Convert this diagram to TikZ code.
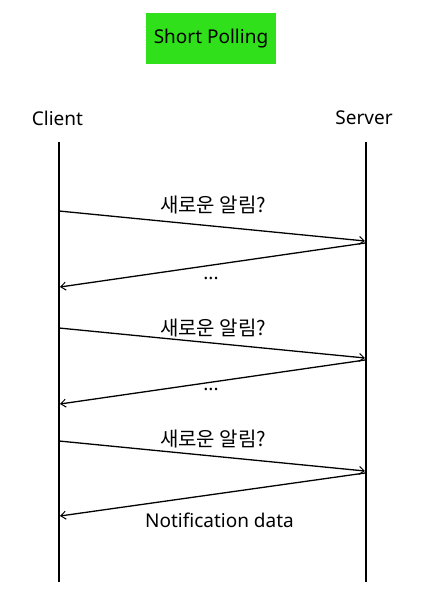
\documentclass[tikz,border=0pt]{standalone}
\usepackage{fontspec}
\setmainfont{Noto Sans}
\newfontfamily\kofont{Noto Sans CJK KR}
\usetikzlibrary{arrows.meta}
\definecolor{titlegreen}{HTML}{2FE01A}
\tikzset{
  lifeline/.style={line width=2.6pt},
  msg/.style={line width=1.3pt,-{Straight Barb[length=5pt,width=8pt,line width=1pt]}},
  lbl/.style={font=\fontsize{19}{22}\selectfont, inner sep=0pt},
  kolbl/.style={font=\kofont\fontsize{20}{24}\selectfont, inner sep=0pt},
}
\begin{document}
\begin{tikzpicture}[x=1pt,y=-1pt]
\useasboundingbox (0,0) rectangle (428,602);
\fill[white] (0,0) rectangle (428,602);
\node[fill=titlegreen, minimum width=130pt, minimum height=51pt, lbl, inner sep=0pt] (title) at (211,38.5) {Short Polling};
\node[lbl] (client) at (57.5,118) {Client};
\node[lbl] (server) at (364,118) {Server};
\coordinate (ct) at (59,142); \coordinate (cb) at (59,582);
\coordinate (st) at (366,142); \coordinate (sb) at (366,582);
\draw[lifeline] (ct) -- (cb);
\draw[lifeline] (st) -- (sb);
% messages
\coordinate (c1) at (59,211); \coordinate (s1) at (365,241);
\coordinate (s2) at (365,243); \coordinate (c2) at (60,287);
\coordinate (c3) at (59,328); \coordinate (s3) at (365,358);
\coordinate (s4) at (365,360); \coordinate (c4) at (60,404);
\coordinate (c5) at (59,441); \coordinate (s5) at (365,471);
\coordinate (s6) at (365,473); \coordinate (c6) at (60,516);
\draw[msg] (c1) -- (s1);
\draw[msg] (s2) -- (c2);
\draw[msg] (c3) -- (s3);
\draw[msg] (s4) -- (c4);
\draw[msg] (c5) -- (s5);
\draw[msg] (s6) -- (c6);
\node[kolbl] (q1) at (213,205) {새로운 알림?};
\node[lbl] (d1) at (211,278) {...};
\node[kolbl] (q2) at (213,328) {새로운 알림?};
\node[lbl] (d2) at (211,389) {...};
\node[kolbl] (q3) at (213,439) {새로운 알림?};
\node[lbl] (nd) at (219.5,520) {Notification data};
\end{tikzpicture}
\end{document}
